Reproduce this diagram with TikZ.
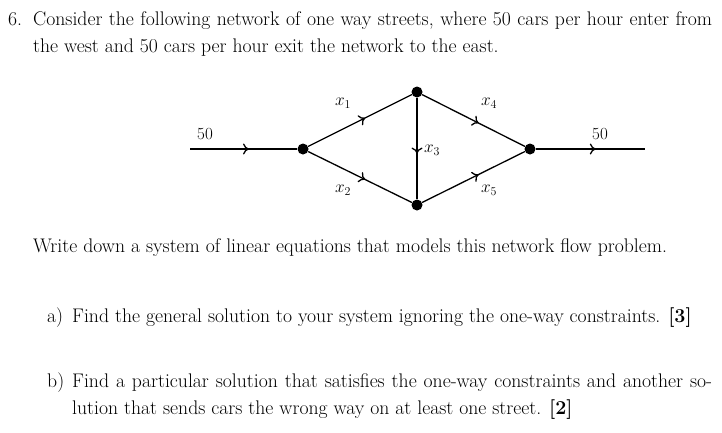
\documentclass[tikz,border=0pt]{standalone}
\usetikzlibrary{decorations.markings,arrows.meta}
\begin{document}
\begin{tikzpicture}[x=1pt,y=-1pt,
  txt/.style={anchor=base west,inner sep=0pt,font=\fontsize{19.7}{24}\selectfont},
  dot/.style={circle,fill=black,inner sep=0pt,minimum size=11pt},
  edge/.style={line width=1.3pt,postaction={decorate},decoration={markings,mark=at position 0.55 with {\arrow{To[length=6pt,width=11pt,line width=1.3pt]}}}},
  lab/.style={font=\fontsize{17}{20}\selectfont,inner sep=0pt}]
\useasboundingbox (0,0) rectangle (722,432);
\node[txt] (n6) at (8,25) {6.};
\node[txt] (l1) at (33,25) {\makebox[679pt][s]{Consider the following network of one way streets, where 50 cars per hour enter from}};
\node[txt] (l2) at (33,52) {the west and 50 cars per hour exit the network to the east.};
\node[txt] (l3) at (33,252) {Write down a system of linear equations that models this network flow problem.};
\node[txt] (la) at (47,322) {a)};
\node[txt] (lat) at (72,322) {Find the general solution to your system ignoring the one-way constraints. \textbf{[3]}};
\node[txt] (lb) at (47,387) {b)};
\node[txt] (lb1) at (72,387) {\makebox[640pt][s]{Find a particular solution that satisfies the one-way constraints and another so-}};
\node[txt] (lb2) at (72,414) {lution that sends cars the wrong way on at least one street. \textbf{[2]}};
\coordinate (in) at (190,149);
\coordinate (out) at (645,149);
\node[dot] (L) at (303,149) {};
\node[dot] (T) at (417,92) {};
\node[dot] (B) at (417,205) {};
\node[dot] (R) at (530,149) {};
\draw[edge] (in) -- (L);
\draw[edge] (L) -- (T);
\draw[edge] (L) -- (B);
\draw[edge] (T) -- (B);
\draw[edge] (T) -- (R);
\draw[edge] (B) -- (R);
\draw[edge] (R) -- (out);
\node[lab] (t50a) at (205,134) {50};
\node[lab] (t50b) at (600,134) {50};
\node[lab] (x1) at (343,103) {$x_1$};
\node[lab] (x2) at (343,190) {$x_2$};
\node[lab] (x3) at (432,150) {$x_3$};
\node[lab] (x4) at (489,103) {$x_4$};
\node[lab] (x5) at (489,190) {$x_5$};
\end{tikzpicture}
\end{document}
